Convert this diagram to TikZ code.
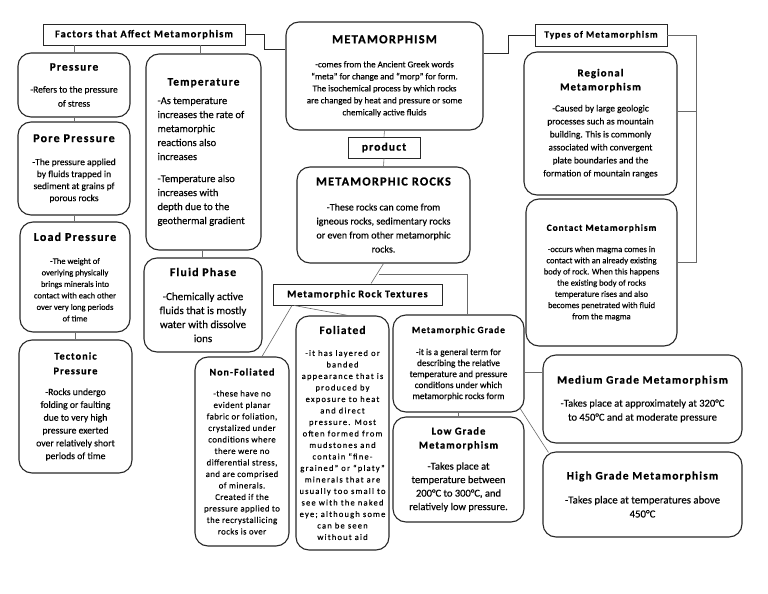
\documentclass[tikz,border=0pt]{standalone}
\usepackage{fontspec}
\setmainfont[FakeBold=0.25]{Carlito}
\newfontfamily\spaced[LetterSpace=10,BoldFeatures={FakeBold=0.6}]{Carlito}
\usetikzlibrary{positioning}
\definecolor{boxline}{RGB}{40,40,40}
\definecolor{linkgray}{RGB}{105,105,105}
\tikzset{
  box/.style={draw=boxline, line width=1.1pt, rounded corners=13pt, align=center, inner sep=2pt},
  tag/.style={draw=boxline, line width=0.9pt, align=center, inner sep=1pt},
  link/.style={draw=linkgray, line width=0.6pt},
  wh/.style 2 args={minimum width=#1pt, minimum height=#2pt},
}
\newcommand{\hd}[1]{{\spaced\bfseries #1}}
\newcommand{\hsz}[1]{\fontsize{#1}{#1}\selectfont}
\newcommand{\bsz}[2]{\fontsize{#1}{#2}\selectfont}

\begin{document}
\begin{tikzpicture}[x=1pt, y=-1pt]
    \useasboundingbox (0,0) rectangle (768,594);
    % labels
    \node[tag, wh={202}{21}, font=\hsz{10.5}] (factors) at (144,34.5) {\hd{Factors that Affect Metamorphism}};
    \node[tag, wh={132}{22}, font=\hsz{9.5}] (types) at (601,35) {\hd{Types of Metamorphism}};
    \node[tag, wh={72}{21}, font=\hsz{11.5}] (product) at (384,147.5) {\hd{product}};
    \node[tag, wh={169}{21}, font=\hsz{10.2}] (textures) at (357.5,294.5) {\hd{Metamorphic Rock Textures}};
    % middle
    \node[box, wh={197}{108}, font=\bsz{9}{12}] (metam) at (384.5,76)
    {{\hsz{12.5}\hd{METAMORPHISM}}\\[12pt]
     -comes from the Ancient Greek words\\
     “meta” for change and “morp” for form.\\
     The isochemical process by which  rocks\\
     are changed by heat and pressure or some\\
     chemically active fluids};
    \node[box, wh={173}{96}, font=\bsz{10}{14}] (mrocks) at (383.5,215)
    {{\hsz{12.3}\hd{METAMORPHIC ROCKS}}\\[11pt]
     -These rocks can come from\\
     igneous rocks, sedimentary rocks\\
     or even from other metamorphic\\
     rocks.};
    % factors
    \node[box, wh={112}{64}, font=\bsz{9.5}{14}] (pressure) at (74,85)
    {{\hsz{11.4}\hd{Pressure}}\\[8pt]
     -Refers to the pressure\\ of stress};
    \node[box, wh={112}{93}, font=\bsz{9.5}{12}] (pore) at (74,168.5)
    {{\hsz{12}\hd{Pore Pressure}}\\[11pt]
     -The pressure applied\\ by fluids trapped in\\ sediment at grains pf\\ porous rocks};
    \node[box, wh={110}{110}, font=\bsz{8.5}{11.5}] (load) at (75,277)
    {{\hsz{12}\hd{Load Pressure}}\\[11.5pt]
     -The weight of\\ overlying  physically\\ brings minerals into\\ contact with each other\\ over very long periods\\ of time};
    \node[box, wh={113}{133}, font=\bsz{9.7}{12.8}] (tectonic) at (75.5,406.5)
    {{\hsz{10.3}\hd{Tectonic}}\\[2pt]{\hsz{10.3}\hd{Pressure}}\\[8pt]
     -Rocks undergo\\ folding or faulting\\ due to very high\\ pressure exerted\\ over relatively short\\ periods of time};
    \node[box, wh={115}{196}, font=\bsz{10.5}{14}] (temp) at (203.5,152)
    {{\hsz{11.4}\hd{Temperature}}\\[9pt]
     \parbox{92pt}{\raggedright -As temperature\\ increases the rate of\\ metamorphic\\ reactions also\\ increases\\[8pt]
     -Temperature also\\ increases with\\ depth due to the\\ geothermal gradient}};
    \node[box, wh={118}{94}, font=\bsz{11}{14}] (fluid) at (203,305)
    {{\hsz{11.8}\hd{Fluid Phase}}\\[10pt]
     -Chemically active\\ fluids that is mostly\\ water with dissolve\\ ions};
    % types
    \node[box, wh={153}{143}, font=\bsz{9.4}{13}] (regional) at (600.5,123.5)
    {{\hsz{10.7}\hd{Regional}}\\[1pt]{\hsz{10.7}\hd{Metamorphism}}\\[8pt]
     -Caused by large geologic\\ processes such as mountain\\ building. This is commonly\\ associated with convergent\\ plate boundaries and the\\ formation of mountain ranges};
    \node[box, wh={151}{147}, font=\bsz{8.6}{11.2}] (contact) at (601.5,272.5)
    {{\hsz{9.4}\hd{Contact  Metamorphism}}\\[10pt]
     -occurs when magma comes in\\ contact with an already existing\\ body of rock. When this happens\\ the existing body of rocks\\ temperature rises and also\\ becomes penetrated with fluid\\ from the magma};
    % textures
    \node[box, wh={94}{189}, font=\bsz{8.8}{11.5}\addfontfeature{LetterSpace=5}] (nonfol) at (242,451.5)
    {{\hsz{10}\hd{Non-Foliated}}\\[9.5pt]
     -these have no\\ evident planar\\ fabric or foliation,\\ crystalized under\\ conditions where\\ there were no\\ differential stress,\\ and are comprised\\ of minerals.\\ Created if the\\ pressure applied to\\ the recrystallicing\\ rocks is over};
    \node[box, wh={93}{234}, font=\bsz{8.5}{11.5}\addfontfeature{LetterSpace=14}] (foliated) at (342.5,433)
    {{\hsz{11.4}\hd{Foliated}}\\[10.5pt]
     -it has layered or\\ banded\\ appearance that is\\ produced by\\ exposure to heat\\ and direct\\ pressure. Most\\ often formed from\\ mudstones and\\ contain “fine-\\grained” or “platy”\\ minerals that are\\ usually too small to\\ see with the naked\\ eye; although some\\ can be seen\\ without aid};
    \node[box, wh={131}{97}, font=\bsz{9.2}{11}] (grade) at (458.5,363.5)
    {{\hsz{9.4}\hd{Metamorphic  Grade}}\\[11pt]
     -it is a general term for\\ describing the relative\\ temperature and pressure\\ conditions under which\\ metamorphic rocks form};
    \node[box, wh={131}{105}, font=\bsz{10.5}{13.5}] (low) at (458.5,469.5)
    {{\hsz{10.5}\hd{Low Grade}}\\[0.5pt]{\hsz{10.5}\hd{Metamorphism}}\\[7.5pt]
     -Takes place at\\ temperature between\\ 200°C to 300°C, and\\ relatively low pressure.};
    \node[box, wh={199}{88}, font=\bsz{10.5}{14}] (medium) at (642.5,399)
    {{\hsz{11.3}\hd{Medium Grade Metamorphism}}\\[9pt]
     -Takes place at approximately at 320°C\\ to 450°C and at moderate pressure};
    \node[box, wh={199}{85}, font=\bsz{10.8}{14}] (high) at (642.5,494.5)
    {{\hsz{11.4}\hd{High Grade Metamorphism}}\\[10pt]
     -Takes place at temperatures above\\ 450°C};
    % bends
    \coordinate (fbend) at (264,34.5);
    \coordinate (mbend) at (508,53);
    \coordinate (tbend) at (696,35);
    \coordinate (rjoin) at (696,111);
    \coordinate (cbend) at (696,262);
    \coordinate (split) at (379,274);
    % connectors
    \draw[link] (factors.south -| pressure) -- (pressure.north);
    \draw[link] (factors.south -| 200,0) -- (temp.north -| 200,0);
    \draw[link] (pressure.south) -- (pore.north);
    \draw[link] (pore.south) -- (pore.south |- load.north);
    \draw[link] (load.south) -- (load.south |- tectonic.north);
    \draw[link] (temp.south -| 202,0) -- (fluid.north -| 202,0);
    \draw[link, draw=boxline] (factors.east) -- (fbend) |- (metam.west |- 0,49);
    \draw[link, draw=boxline] (metam.east |- mbend) -- (mbend) |- (types.west);
    \draw[link] (types.east) -- (tbend) -- (cbend) -- (contact.east |- cbend);
    \draw[link] (regional.east |- rjoin) -- (rjoin);
    \draw[link] (metam.south) -- (product.north);
    \draw[link] (product.south) -- (mrocks.north);
    \draw[link] (mrocks.south) -- (textures.north -| 371,0);
    \draw[link] (split) -| (grade.north -| 467,0);
    \draw[link] (textures.south -| 292,0) -- (nonfol.north -| 262,0);
    \draw[link] (textures.south -| 294,0) -- (foliated.north -| 348,0);
    \draw[link] (grade.south) -- (low.north);
    \draw[link] (grade.east |- 0,372) -- (medium.west |- 0,372);
    \draw[link] ([shift={(-5,-5)}]grade.south east) -- ([shift={(6,1)}]high.north west);
\end{tikzpicture}
\end{document}
